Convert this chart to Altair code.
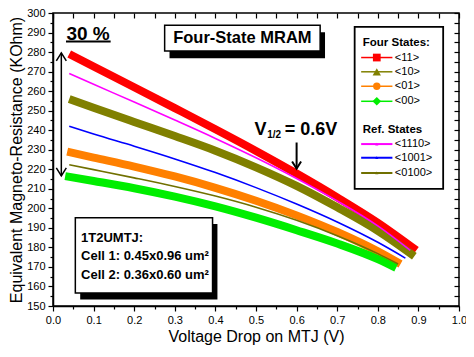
import altair as alt
import pandas as pd

FONT = "Liberation Sans"

# ---------------- data ----------------
series_names = ["<11>", "<10>", "<01>", "<00>", "<1110>", "<1001>", "<0100>"]
state_series = ["<11>", "<10>", "<01>", "<00>"]
ref_series = ["<1110>", "<1001>", "<0100>"]
series_colors = ["#FF0000", "#808000", "#FF8000", "#00EE00", "#FF00FF", "#0000FF", "#707000"]

V_11 = [0.04, 0.10, 0.20, 0.30, 0.40, 0.50, 0.60, 0.70, 0.80, 0.895]
R_11 = [279.0, 272.6, 262.0, 251.3, 240.5, 229.4, 217.8, 205.6, 192.6, 178.5]
V_10 = [0.04, 0.10, 0.20, 0.30, 0.40, 0.50, 0.60, 0.70, 0.80, 0.89]
R_10 = [256.0, 251.5, 244.2, 237.0, 229.5, 221.0, 211.5, 200.5, 188.5, 175.5]
V_01 = [0.035, 0.10, 0.20, 0.30, 0.40, 0.50, 0.60, 0.70, 0.80, 0.856]
R_01 = [229.0, 226.0, 221.4, 216.3, 210.5, 203.9, 196.4, 187.9, 178.0, 171.5]
V_00 = [0.03, 0.10, 0.20, 0.30, 0.40, 0.50, 0.60, 0.70, 0.80, 0.845]
R_00 = [216.5, 214.0, 210.3, 206.0, 201.0, 195.2, 188.8, 182.0, 174.0, 169.5]
V_1110 = [0.04, 0.10, 0.20, 0.30, 0.40, 0.50, 0.60, 0.70, 0.80, 0.88]
R_1110 = [269.0, 263.5, 254.4, 245.2, 235.8, 225.9, 215.3, 203.8, 191.0, 178.5]
V_1001 = [0.04, 0.10, 0.20, 0.30, 0.40, 0.50, 0.60, 0.70, 0.80, 0.868]
R_1001 = [242.0, 238.0, 231.8, 225.3, 218.3, 210.6, 202.2, 193.0, 182.6, 174.5]
V_0100 = [0.04, 0.10, 0.20, 0.30, 0.40, 0.50, 0.60, 0.70, 0.80, 0.85]
R_0100 = [222.3, 219.8, 215.6, 211.2, 206.3, 200.6, 193.9, 186.0, 176.8, 171.5]

x_ticks = [round(i * 0.05, 2) for i in range(21)]
y_ticks = list(range(150, 301, 5))

title_box_text = "Four-State MRAM"
cell_texts = ["1T2UMTJ:", "Cell 1: 0.45x0.96 um\u00b2", "Cell 2: 0.36x0.60 um\u00b2"]
legend_headers = ["Four States:", "Ref. States"]

# ---------------- build tables ----------------
rows = []
for name, vv, rr in [("<11>", V_11, R_11), ("<10>", V_10, R_10), ("<01>", V_01, R_01),
                     ("<00>", V_00, R_00), ("<1110>", V_1110, R_1110),
                     ("<1001>", V_1001, R_1001), ("<0100>", V_0100, R_0100)]:
    for v, r in zip(vv, rr):
        rows.append({"S": name, "V": v, "R": r})
df = pd.DataFrame(rows)
df_states = df[df.S.isin(state_series)]
df_refs = df[df.S.isin(ref_series)]

xs = alt.Scale(domain=[0, 1], nice=False, zero=False)
ys = alt.Scale(domain=[150, 300], nice=False, zero=False)
cscale = alt.Scale(domain=series_names, range=series_colors)

x_axis = alt.Axis(
    values=x_ticks,
    labelExpr="round(datum.value*20) % 2 === 0 ? format(datum.value, '.1f') : ''",
    tickSize={"condition": {"test": "round(datum.value*20) % 2 === 0", "value": 5}, "value": 3},
    title="Voltage Drop on MTJ (V)", grid=False, labelFlush=False, labelOverlap=False,
    labelPadding=3, titlePadding=3)
y_axis = alt.Axis(
    values=y_ticks,
    labelExpr="datum.value % 10 === 0 ? datum.label : ''",
    tickSize={"condition": {"test": "datum.value % 10 === 0", "value": 5}, "value": 3},
    title="Equivalent Magneto-Resistance (KOhm)", grid=False, labelOverlap=False,
    labelPadding=3, titlePadding=2)


def AX(field="V"):
    return alt.X(f"{field}:Q", scale=xs, axis=None)


def AY(field="R"):
    return alt.Y(f"{field}:Q", scale=ys, axis=None)


# main thick curves (four states) carry the bottom/left axes
thick = alt.Chart(df_states).mark_line(strokeWidth=8, interpolate="monotone", strokeCap="butt").encode(
    x=alt.X("V:Q", scale=xs, axis=x_axis),
    y=alt.Y("R:Q", scale=ys, axis=y_axis),
    color=alt.Color("S:N", scale=cscale, legend=None),
)

# frame ticks on top / right (pointing inward)
frame = alt.Chart(df_states).mark_point(opacity=0).encode(
    x=alt.X("V:Q", scale=xs, axis=alt.Axis(orient="top", values=x_ticks, labels=False, domain=False,
                                          tickSize=5, offset=-5, title=None, grid=False)),
    y=alt.Y("R:Q", scale=ys, axis=alt.Axis(orient="right", values=y_ticks, labels=False, domain=False,
                                          tickSize=5, offset=-5, title=None, grid=False)),
)

thin = alt.Chart(df_refs).mark_line(strokeWidth=1.6, interpolate="monotone").encode(
    x=AX(), y=AY(), color=alt.Color("S:N", scale=cscale, legend=None))

# ---- annotations ----
layers = [thick, frame, thin]

# 30 % label and underline
layers.append(alt.Chart(pd.DataFrame({"V": [0.033], "R": [286.4], "t": ["30 %"]})).mark_text(
    align="left", baseline="alphabetic", fontSize=19, fontWeight="bold", color="black").encode(
    x=AX(), y=AY(), text="t:N"))
layers.append(alt.Chart(pd.DataFrame({"V": [0.032], "V2": [0.142], "R": [285.4]})).mark_rule(
    strokeWidth=2, color="black").encode(x=AX(), x2="V2:Q", y=AY()))

# double arrow
layers.append(alt.Chart(pd.DataFrame({"V": [0.0205], "R": [279.6], "R2": [216.6]})).mark_rule(
    strokeWidth=1.5, color="black").encode(x=AX(), y=AY(), y2="R2:Q"))
layers.append(alt.Chart(pd.DataFrame({"V": [0.0205], "R": [279.6]})).mark_point(
    shape="M-1,1.6L0,0L1,1.6", filled=False, size=100, strokeWidth=1.5, color="black", opacity=1).encode(
    x=AX(), y=AY()))
layers.append(alt.Chart(pd.DataFrame({"V": [0.0205], "R": [216.6]})).mark_point(
    shape="M-1,-1.6L0,0L1,-1.6", filled=False, size=100, strokeWidth=1.5, color="black", opacity=1).encode(
    x=AX(), y=AY()))

# Four-State MRAM box with shadow
layers.append(alt.Chart(pd.DataFrame({"a": [0.287], "b": [0.670], "c": [290.2], "d": [276.8]})).mark_rect(
    color="black").encode(x=AX("a"), x2="b:Q", y=AY("c"), y2="d:Q"))
layers.append(alt.Chart(pd.DataFrame({"a": [0.275], "b": [0.658], "c": [293.7], "d": [280.5]})).mark_rect(
    fill="white", stroke="black", strokeWidth=1.5).encode(x=AX("a"), x2="b:Q", y=AY("c"), y2="d:Q"))
layers.append(alt.Chart(pd.DataFrame({"V": [0.4665], "R": [287.1], "t": [title_box_text]})).mark_text(
    align="center", baseline="middle", fontSize=16.5, fontWeight="bold", color="black").encode(
    x=AX(), y=AY(), text="t:N"))

# Cell box with shadow
layers.append(alt.Chart(pd.DataFrame({"a": [0.067], "b": [0.405], "c": [192.0], "d": [153.3]})).mark_rect(
    color="black").encode(x=AX("a"), x2="b:Q", y=AY("c"), y2="d:Q"))
layers.append(alt.Chart(pd.DataFrame({"a": [0.055], "b": [0.393], "c": [195.2], "d": [156.6]})).mark_rect(
    fill="white", stroke="black", strokeWidth=1.5).encode(x=AX("a"), x2="b:Q", y=AY("c"), y2="d:Q"))
layers.append(alt.Chart(pd.DataFrame({"V": [0.069] * 3, "R": [183.0, 173.8, 163.9], "t": cell_texts})).mark_text(
    align="left", baseline="alphabetic", fontSize=13, fontWeight="bold", color="black").encode(
    x=AX(), y=AY(), text="t:N"))

# V1/2 annotation
layers.append(alt.Chart(pd.DataFrame({"V": [0.496, 0.571], "R": [237.7, 237.7], "t": ["V", "= 0.6V"]})).mark_text(
    align="left", baseline="alphabetic", fontSize=18, fontWeight="bold", color="black").encode(
    x=AX(), y=AY(), text="t:N"))
layers.append(alt.Chart(pd.DataFrame({"V": [0.5275], "R": [236.2], "t": ["1/2"]})).mark_text(
    align="left", baseline="alphabetic", fontSize=10, fontWeight="bold", color="black").encode(
    x=AX(), y=AY(), text="t:N"))
layers.append(alt.Chart(pd.DataFrame({"V": [0.6], "R": [233.7], "R2": [220.3]})).mark_rule(
    strokeWidth=2, color="black").encode(x=AX(), y=AY(), y2="R2:Q"))
layers.append(alt.Chart(pd.DataFrame({"V": [0.6], "R": [220.3]})).mark_point(
    shape="M-1,-1.6L0,0L1,-1.6", filled=False, size=80, strokeWidth=2, color="black", opacity=1).encode(
    x=AX(), y=AY()))

# Legend box
layers.append(alt.Chart(pd.DataFrame({"a": [0.743], "b": [0.961], "c": [292.9], "d": [210.0]})).mark_rect(
    fill="white", stroke="black", strokeWidth=1.8).encode(x=AX("a"), x2="b:Q", y=AY("c"), y2="d:Q"))
layers.append(alt.Chart(pd.DataFrame({"V": [0.763, 0.763], "R": [284.6, 240.0], "t": legend_headers})).mark_text(
    align="left", baseline="middle", fontSize=11.5, fontWeight="bold", color="black").encode(
    x=AX(), y=AY(), text="t:N"))

leg_rows = [277.2, 269.9, 262.5, 254.8, 232.9, 225.9, 218.1]
leg_shapes = ["square", "triangle-up", "circle", "diamond", "triangle-up", "triangle-up", "triangle-up"]
leg_sizes = [60, 70, 55, 75, 10, 10, 10]
leg_widths = [1.5, 1.5, 1.5, 1.5, 2, 2, 2]
leg = pd.DataFrame({"S": series_names, "R": leg_rows, "shp": leg_shapes, "sz": leg_sizes,
                    "x0": [0.759] * 7, "x1": [0.836] * 7, "xm": [0.7975] * 7, "xt": [0.842] * 7,
                    "sw": leg_widths})
layers.append(alt.Chart(leg).mark_rule().encode(
    x=AX("x0"), x2="x1:Q", y=AY(), color=alt.Color("S:N", scale=cscale, legend=None),
    strokeWidth=alt.StrokeWidth("sw:Q", scale=None)))
layers.append(alt.Chart(leg).mark_point(filled=True, opacity=1).encode(
    x=AX("xm"), y=AY(), color=alt.Color("S:N", scale=cscale, legend=None),
    shape=alt.Shape("shp:N", scale=None), size=alt.Size("sz:Q", scale=None)))
layers.append(alt.Chart(leg).mark_text(align="left", baseline="middle", fontSize=11, color="black").encode(
    x=AX("xt"), y=AY(), text="S:N"))

chart = alt.layer(*layers).resolve_axis(x="independent", y="independent").properties(
    width=406, height=293,
    padding={"left": 45, "top": 5, "right": 7, "bottom": 43},
    autosize=alt.AutoSizeParams(type="none"),
).configure_view(stroke="black", strokeWidth=1.5).configure_axis(
    labelFont=FONT, titleFont=FONT, labelFontSize=11, titleFontSize=16, titleFontWeight="normal",
    labelColor="black", titleColor="black", domainColor="black", tickColor="black",
    domainWidth=1.5, tickWidth=1.2,
).configure_text(font=FONT)

chart.save("out.html", embed_options={"renderer": "svg", "actions": False})
